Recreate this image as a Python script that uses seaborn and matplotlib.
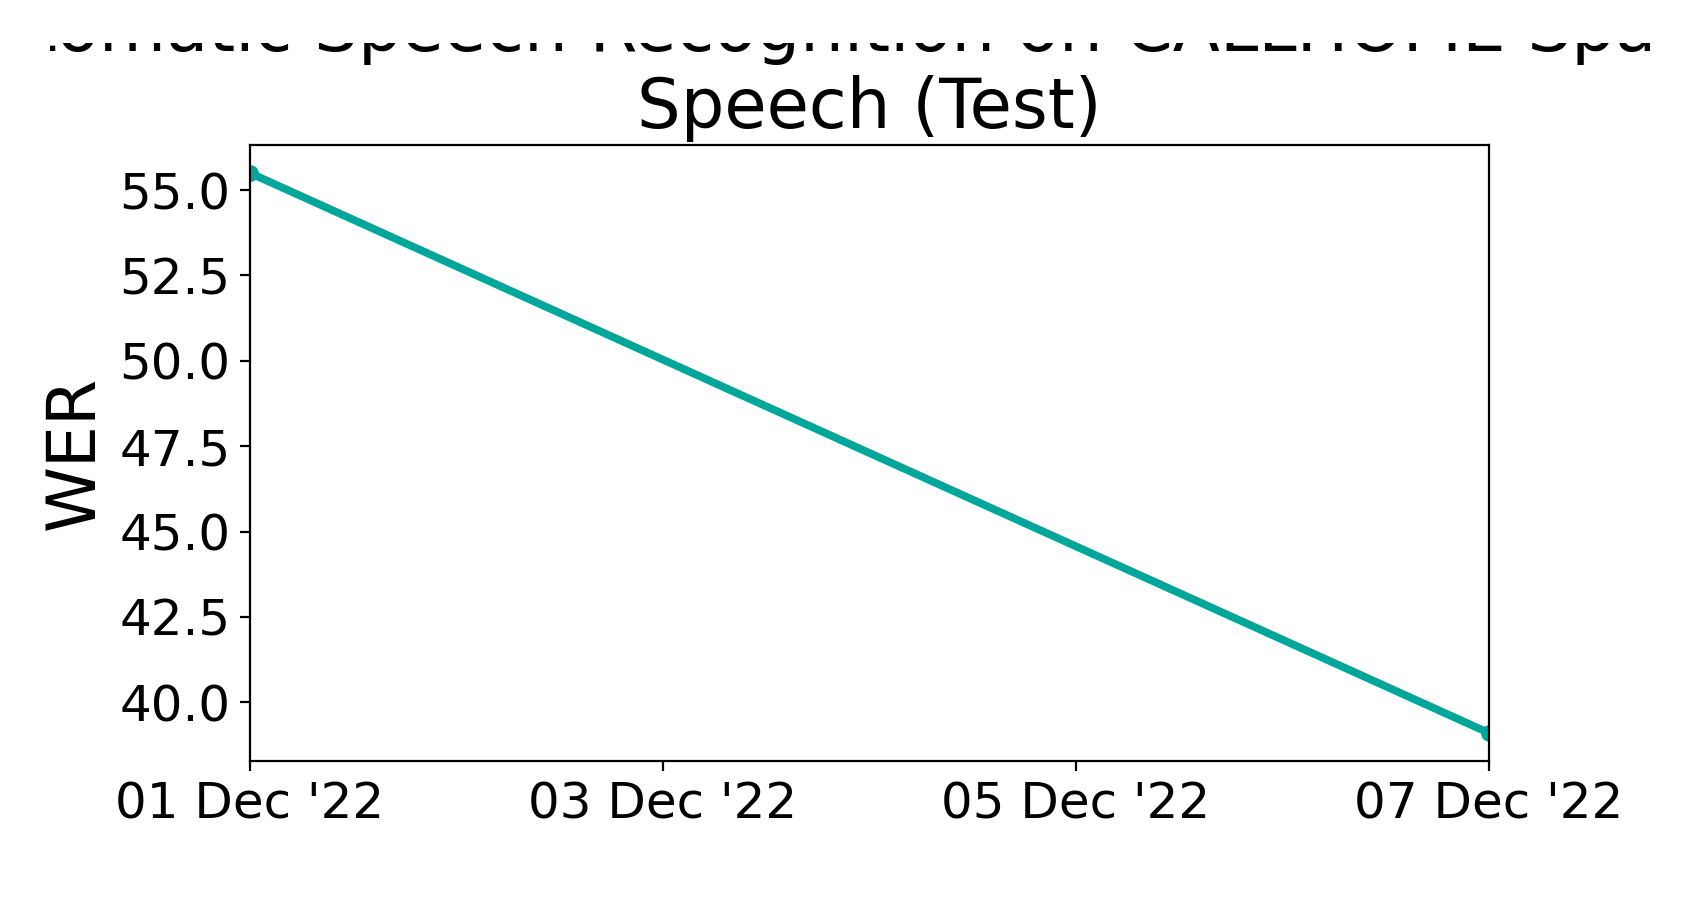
#!/usr/bin/env python3
import pandas as pd
import seaborn as sns
import matplotlib
matplotlib.use("Agg")
import matplotlib.pyplot as plt
import matplotlib.dates as mdates
from matplotlib.ticker import MultipleLocator
from matplotlib.transforms import Bbox, TransformedBbox

# data
dates = ["2022-12-01", "2022-12-07"]
wer = [55.5, 39.1]
title = "Automatic Speech Recognition on CALLHOME Spanish\nSpeech (Test)"
line_color = "#00a699"

df = pd.DataFrame({"date": pd.to_datetime(dates), "WER": wer})

fig = plt.figure(figsize=(8.5, 4.5), dpi=200)
ax = fig.add_axes([250 / 1700, 1 - 761 / 900, (1489 - 250) / 1700, (761 - 145) / 900])

sns.lineplot(data=df, x="date", y="WER", ax=ax, color=line_color, linewidth=2.8,
             marker="o", markersize=6, markeredgecolor=line_color, markeredgewidth=0)

ax.set_xlim(df["date"].min(), df["date"].max())
ax.xaxis.set_major_locator(mdates.DayLocator(bymonthday=[1, 3, 5, 7]))
ax.xaxis.set_major_formatter(mdates.DateFormatter("%d %b '%y"))
ax.yaxis.set_major_locator(MultipleLocator(2.5))
ax.tick_params(labelsize=18)
ax.set_xlabel("")
ax.set_ylabel("WER", fontsize=24)

t = ax.set_title(title, fontsize=24.8)
# the reference title is cut off at the edges of the picture
clip = TransformedBbox(Bbox.from_extents(50 / 1700, 0, 1650 / 1700, 1 - 43 / 900), fig.transFigure)
t.set_clip_box(clip)
t.set_clip_on(True)

fig.savefig("out.png", dpi=200)
